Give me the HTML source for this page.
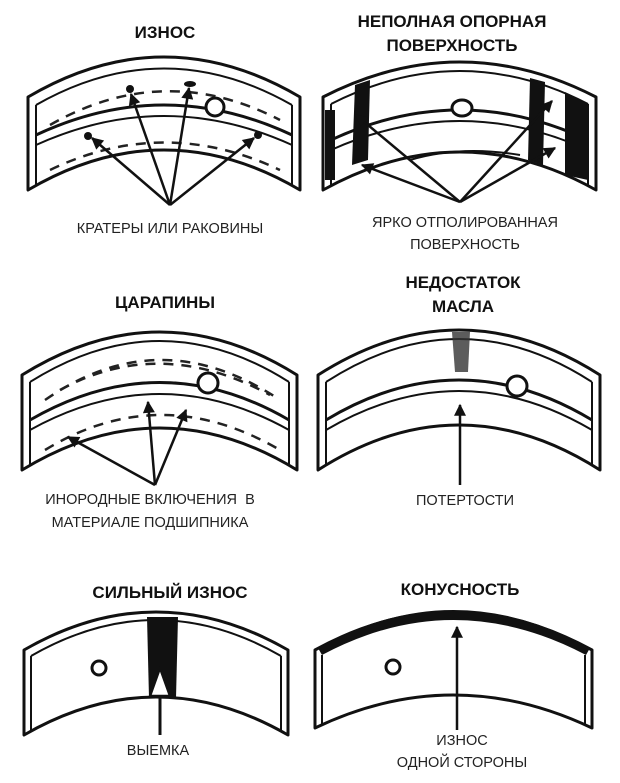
<!DOCTYPE html>
<html><head><meta charset="utf-8"><style>
html,body{margin:0;padding:0;background:#fff;}
svg{display:block;}
.t{font-family:"Liberation Sans","DejaVu Sans",sans-serif;font-weight:bold;font-size:17px;fill:#111;text-anchor:middle;}
.l{font-family:"Liberation Sans","DejaVu Sans",sans-serif;font-size:14.5px;fill:#222;text-anchor:middle;}
.s{fill:none;stroke:#111;stroke-width:3;stroke-linejoin:round;}
.s2{fill:none;stroke:#111;stroke-width:2;}
.d{fill:none;stroke:#222;stroke-width:2.5;stroke-dasharray:10 8;}
.a{stroke:#111;stroke-width:2.5;fill:none;}
</style></head><body>
<svg width="620" height="783" viewBox="0 0 620 783" xmlns="http://www.w3.org/2000/svg">
<defs><marker id="ar" viewBox="0 0 10 10" refX="9" refY="5" markerUnits="userSpaceOnUse" markerWidth="14" markerHeight="12" orient="auto"><path d="M0,0 L10,5 L0,10 Z" fill="#111"/></marker></defs>

<!-- Panel 1 -->
<text class="t" x="165" y="38">ИЗНОС</text>
<path class="s" d="M28,190 L28,97 Q164,17 300,97 L300,190 Q164,110 28,190 Z"/>
<path class="s2" d="M36,105 Q164,32 292,105"/>
<path class="s2" d="M36,105 L36,186 M292,105 L292,186"/>
<path class="s" d="M36,135 Q164,75 292,135"/>
<path class="s2" d="M36,145 Q164,87 292,145"/>
<path class="d" d="M50,125 Q164,60 280,120"/>
<path class="d" d="M50,170 Q164,115 280,170"/>
<circle cx="215" cy="107" r="9" fill="#fff" stroke="#111" stroke-width="3"/>
<circle cx="88" cy="136" r="4" fill="#111"/><circle cx="130" cy="89" r="4" fill="#111"/>
<ellipse cx="190" cy="84" rx="6" ry="3" fill="#111"/><circle cx="258" cy="135" r="4" fill="#111"/>
<path class="a" marker-end="url(#ar)" d="M170,205 L92,138"/>
<path class="a" marker-end="url(#ar)" d="M170,205 L131,94"/>
<path class="a" marker-end="url(#ar)" d="M170,205 L189,88"/>
<path class="a" marker-end="url(#ar)" d="M170,205 L254,138"/>
<text class="l" x="170" y="233">КРАТЕРЫ ИЛИ РАКОВИНЫ</text>

<!-- Panel 2 -->
<text class="t" x="452" y="27">НЕПОЛНАЯ ОПОРНАЯ</text>
<text class="t" x="452" y="51">ПОВЕРХНОСТЬ</text>
<path class="s" d="M323,190 L323,97 Q460,27 596,97 L596,190 Q460,114 323,190 Z"/>
<path class="s2" d="M331,104 Q460,38 588,104"/>
<path class="s2" d="M331,104 L331,186 M588,104 L588,186"/>
<path class="s" d="M331,140 Q460,80 588,140"/>
<path class="s2" d="M331,150 Q460,92 588,150"/>
<path class="s2" d="M410,160 Q460,145 520,155"/>
<path d="M355,85 L370,80 L368,160 L352,165 Z" fill="#111"/>
<path d="M530,78 L545,82 L543,165 L528,160 Z" fill="#111"/>
<path d="M565,92 L588,104 L588,180 L565,175 Z" fill="#111"/>
<path d="M325,110 L335,110 L335,180 L325,180 Z" fill="#111"/>
<ellipse cx="462" cy="108" rx="10" ry="8" fill="#fff" stroke="#111" stroke-width="3"/>
<path class="a" marker-end="url(#ar)" d="M460,202 L356,115"/>
<path class="a" marker-end="url(#ar)" d="M460,202 L362,165"/>
<path class="a" marker-end="url(#ar)" d="M460,202 L552,101"/>
<path class="a" marker-end="url(#ar)" d="M460,202 L555,148"/>
<text class="l" x="465" y="227">ЯРКО ОТПОЛИРОВАННАЯ</text>
<text class="l" x="465" y="249">ПОВЕРХНОСТЬ</text>

<!-- Panel 3 -->
<text class="t" x="165" y="308">ЦАРАПИНЫ</text>
<path class="s" d="M22,470 L22,375 Q160,289 297,375 L297,470 Q160,386 22,470 Z"/>
<path class="s2" d="M30,382 Q160,300 289,382"/>
<path class="s2" d="M30,382 L30,466 M289,382 L289,466"/>
<path class="s" d="M30,420 Q160,345 289,420"/>
<path class="s2" d="M30,430 Q160,358 289,430"/>
<path class="d" d="M45,400 Q160,320 280,400"/>
<path class="d" d="M45,450 Q160,380 280,450"/>
<path class="d" d="M60,390 Q160,335 270,395"/>
<circle cx="208" cy="383" r="10" fill="#fff" stroke="#111" stroke-width="3"/>
<path class="a" marker-end="url(#ar)" d="M155,485 L68,437"/>
<path class="a" marker-end="url(#ar)" d="M155,485 L148,402"/>
<path class="a" marker-end="url(#ar)" d="M155,485 L186,410"/>
<text class="l" x="150" y="504">ИНОРОДНЫЕ ВКЛЮЧЕНИЯ&#160;&#160;В</text>
<text class="l" x="150" y="527">МАТЕРИАЛЕ ПОДШИПНИКА</text>

<!-- Panel 4 -->
<text class="t" x="463" y="288">НЕДОСТАТОК</text>
<text class="t" x="463" y="312">МАСЛА</text>
<path class="s" d="M318,470 L318,375 Q459,285 600,375 L600,470 Q459,380 318,470 Z"/>
<path class="s2" d="M326,382 Q459,296 592,382"/>
<path class="s2" d="M326,382 L326,466 M592,382 L592,466"/>
<path class="s" d="M326,420 Q459,340 592,420"/>
<path class="s2" d="M326,430 Q459,352 592,430"/>
<path d="M452,332 L470,332 L468,372 L455,372 Z" fill="#333" opacity="0.8"/>
<circle cx="517" cy="386" r="10" fill="#fff" stroke="#111" stroke-width="3"/>
<path class="a" marker-end="url(#ar)" d="M460,485 L460,405"/>
<text class="l" x="465" y="505">ПОТЕРТОСТИ</text>

<!-- Panel 5 -->
<text class="t" x="170" y="598">СИЛЬНЫЙ ИЗНОС</text>
<path class="s" d="M24,735 L24,650 Q156,574 288,650 L288,735 Q156,659 24,735 Z"/>
<path class="s2" d="M31,656 Q156,584 281,656"/>
<path class="s2" d="M31,656 L31,731 M281,656 L281,731"/>
<path d="M147,617 L178,617 L176,698 L149,698 Z" fill="#111"/>
<circle cx="99" cy="668" r="7" fill="none" stroke="#111" stroke-width="3"/>
<path d="M150,696 L160,668 L170,696 Z" fill="#fff" stroke="#111" stroke-width="2.5" stroke-linejoin="round"/>
<path d="M160,735 L160,696" stroke="#111" stroke-width="3"/>
<text class="l" x="158" y="755">ВЫЕМКА</text>

<!-- Panel 6 -->
<text class="t" x="460" y="595">КОНУСНОСТЬ</text>
<path class="s" d="M315,728 L315,650 Q453,574 592,650 L592,728 Q453,662 315,728 Z"/>
<path d="M318,648 Q453,572 590,648 L586,655 Q453,585 322,655 Z" fill="#111"/>
<path class="s2" d="M322,655 L322,724 M585,655 L585,724"/>
<circle cx="393" cy="667" r="7" fill="none" stroke="#111" stroke-width="3"/>
<path class="a" marker-end="url(#ar)" d="M457,730 L457,627"/>
<text class="l" x="462" y="745">ИЗНОС</text>
<text class="l" x="462" y="767">ОДНОЙ СТОРОНЫ</text>
</svg>
</body></html>
